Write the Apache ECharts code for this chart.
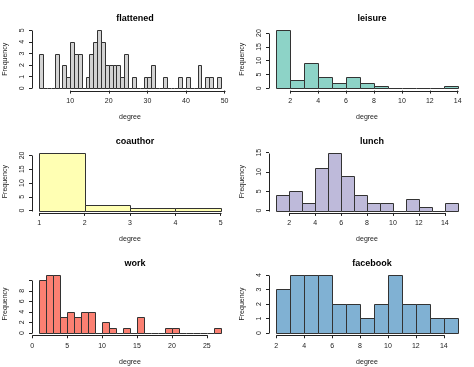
<!DOCTYPE html>
<html><head><meta charset="utf-8">
<script src="https://cdn.jsdelivr.net/npm/echarts@6/dist/echarts.min.js"></script>
<style>html,body{margin:0;padding:0;background:#fff}#c{width:474px;height:367px}</style>
</head><body><div id="c"></div>
<script>
// ---- data ----
const panelTitles = ['flattened', 'leisure', 'coauthor', 'lunch', 'work', 'facebook'];
// each histogram: first break and counts of width-1 bins
const flattenedStart = 2;
const flattenedCounts = [3,0,0,0,3,0,2,1,4,3,3,0,1,3,4,5,4,2,2,2,2,1,3,0,1,0,0,1,1,2,0,0,1,0,0,0,1,0,1,0,0,2,0,1,1,0,1];
const leisureStart = 1;
const leisureCounts = [21,3,9,4,2,4,2,1,0,0,0,0,1];
const coauthorStart = 1;
const coauthorCounts = [21,2,1,1];
const lunchStart = 1;
const lunchCounts = [4,5,2,11,15,9,4,2,2,0,3,1,0,2];
const workStart = 1;
const workCounts = [10,11,11,3,4,3,4,4,0,2,1,0,1,0,3,0,0,0,1,1,0,0,0,0,0,1];
const facebookStart = 2;
const facebookCounts = [3,4,4,4,2,2,1,2,4,2,2,1,1];

const flattenedXTicks = [10,20,30,40,50];
const leisureXTicks = [2,4,6,8,10,12,14];
const coauthorXTicks = [1,2,3,4,5];
const lunchXTicks = [2,4,6,8,10,12,14];
const workXTicks = [0,5,10,15,20,25];
const facebookXTicks = [2,4,6,8,10,12,14];

const flattenedYTicks = [0,1,2,3,4,5];
const leisureYTicks = [0,5,10,15,20];
const coauthorYTicks = [0,5,10,15,20];
const lunchYTicks = [0,5,10,15];
const workYTicks = [0,2,4,6,8,10];
const workYLabels = [0,2,4,6,8];
const facebookYTicks = [0,1,2,3,4];

const panelColors = ['#d3d3d3', '#8dd3c7', '#ffffb3', '#bebada', '#fb8072', '#80b1d3'];

// ---- assembly ----
const starts = [flattenedStart, leisureStart, coauthorStart, lunchStart, workStart, facebookStart];
const counts = [flattenedCounts, leisureCounts, coauthorCounts, lunchCounts, workCounts, facebookCounts];
const xTicks = [flattenedXTicks, leisureXTicks, coauthorXTicks, lunchXTicks, workXTicks, facebookXTicks];
const yTicks = [flattenedYTicks, leisureYTicks, coauthorYTicks, lunchYTicks, workYTicks, facebookYTicks];
const yLabels = [flattenedYTicks, leisureYTicks, coauthorYTicks, lunchYTicks, workYLabels, facebookYTicks];

const FONT = 'Liberation Sans, Arial, Helvetica, sans-serif';
const cellW = 237, cellH = 367 / 3;
const gLeft = 32, gTop = 28, gW = 196, gH = 62.6;
const ink = '#222';

const grids = [], xAxes = [], yAxes = [], series = [], titles = [];
for (let i = 0; i < 6; i++) {
  const col = i % 2, row = Math.floor(i / 2);
  const lo = starts[i], hi = starts[i] + counts[i].length;
  const ext = 0.04 * (hi - lo);
  const ymax = Math.max(...counts[i]);
  grids.push({ left: col * cellW + gLeft, top: row * cellH + gTop, width: gW, height: gH, containLabel: false });
  titles.push({
    text: panelTitles[i], left: col * cellW + gLeft + gW / 2, top: row * cellH + 9.5, textAlign: 'center',
    textStyle: { fontFamily: FONT, fontSize: 9, fontWeight: 'bold', color: '#000' }
  });
  xAxes.push({
    gridIndex: i, type: 'value', min: lo - ext, max: hi + ext,
    axisLine: { show: false, onZero: false },
    splitLine: { show: false },
    axisTick: { show: true, customValues: xTicks[i], length: 3, lineStyle: { color: ink, width: 1 } },
    axisLabel: { customValues: xTicks[i], fontSize: 7, margin: 7, color: ink, fontFamily: FONT },
    name: 'degree', nameLocation: 'middle', nameGap: 23,
    nameTextStyle: { fontSize: 7, color: ink, fontFamily: FONT }
  });
  yAxes.push({
    gridIndex: i, type: 'value', min: -0.04 * ymax, max: 1.04 * ymax,
    axisLine: { show: false, onZero: false },
    splitLine: { show: false },
    axisTick: { show: true, customValues: yTicks[i], length: 3, lineStyle: { color: ink, width: 1 } },
    axisLabel: { customValues: yLabels[i], fontSize: 7, margin: 6, color: ink, fontFamily: FONT, rotate: 90 },
    name: 'Frequency', nameLocation: 'middle', nameGap: 23,
    nameTextStyle: { fontSize: 7, color: ink, fontFamily: FONT }
  });
  const col_ = panelColors[i];
  series.push({
    type: 'custom', xAxisIndex: i, yAxisIndex: i, clip: false,
    data: counts[i].map((c, k) => [lo + k, lo + k + 1, c]),
    renderItem: (params, api) => {
      const p0 = api.coord([api.value(0), api.value(2)]);
      const p1 = api.coord([api.value(1), 0]);
      const x0 = Math.round(p0[0]) + 0.5, x1 = Math.round(p1[0]) + 0.5;
      const y0 = Math.round(p0[1]) + 0.5, yb = Math.round(p1[1]) + 0.5;
      if (api.value(2) === 0) {
        return { type: 'line', shape: { x1: x0, y1: yb, x2: x1, y2: yb }, style: { stroke: '#333', lineWidth: 1 } };
      }
      return { type: 'rect', shape: { x: x0, y: y0, width: x1 - x0, height: yb - y0 },
               style: { fill: col_, stroke: '#333', lineWidth: 1 } };
    }
  });
  const xt = xTicks[i], yt = yTicks[i];
  series.push({
    type: 'custom', xAxisIndex: i, yAxisIndex: i, clip: false, silent: true,
    data: [[xt[0], yt[0]]],
    renderItem: (params, api) => {
      const cs = params.coordSys;
      const xa = Math.round(api.coord([xt[0], 0])[0]) + 0.5;
      const xb = Math.round(api.coord([xt[xt.length - 1], 0])[0]) + 0.5;
      const yBottom = Math.round(cs.y + cs.height) + 0.5;
      const ya = Math.round(api.coord([0, yt[0]])[1]) + 0.5;
      const yb = Math.round(api.coord([0, yt[yt.length - 1]])[1]) + 0.5;
      const xLeft = Math.round(cs.x) + 0.5;
      return { type: 'group', children: [
        { type: 'line', shape: { x1: xa, y1: yBottom, x2: xb, y2: yBottom }, style: { stroke: ink, lineWidth: 1 } },
        { type: 'line', shape: { x1: xLeft, y1: ya, x2: xLeft, y2: yb }, style: { stroke: ink, lineWidth: 1 } }
      ] };
    }
  });
}

const chart = echarts.init(document.getElementById('c'), null, { renderer: 'canvas' });
chart.setOption({
  animation: false,
  backgroundColor: '#fff',
  title: titles,
  grid: grids,
  xAxis: xAxes,
  yAxis: yAxes,
  series: series
});
</script>
</body></html>
